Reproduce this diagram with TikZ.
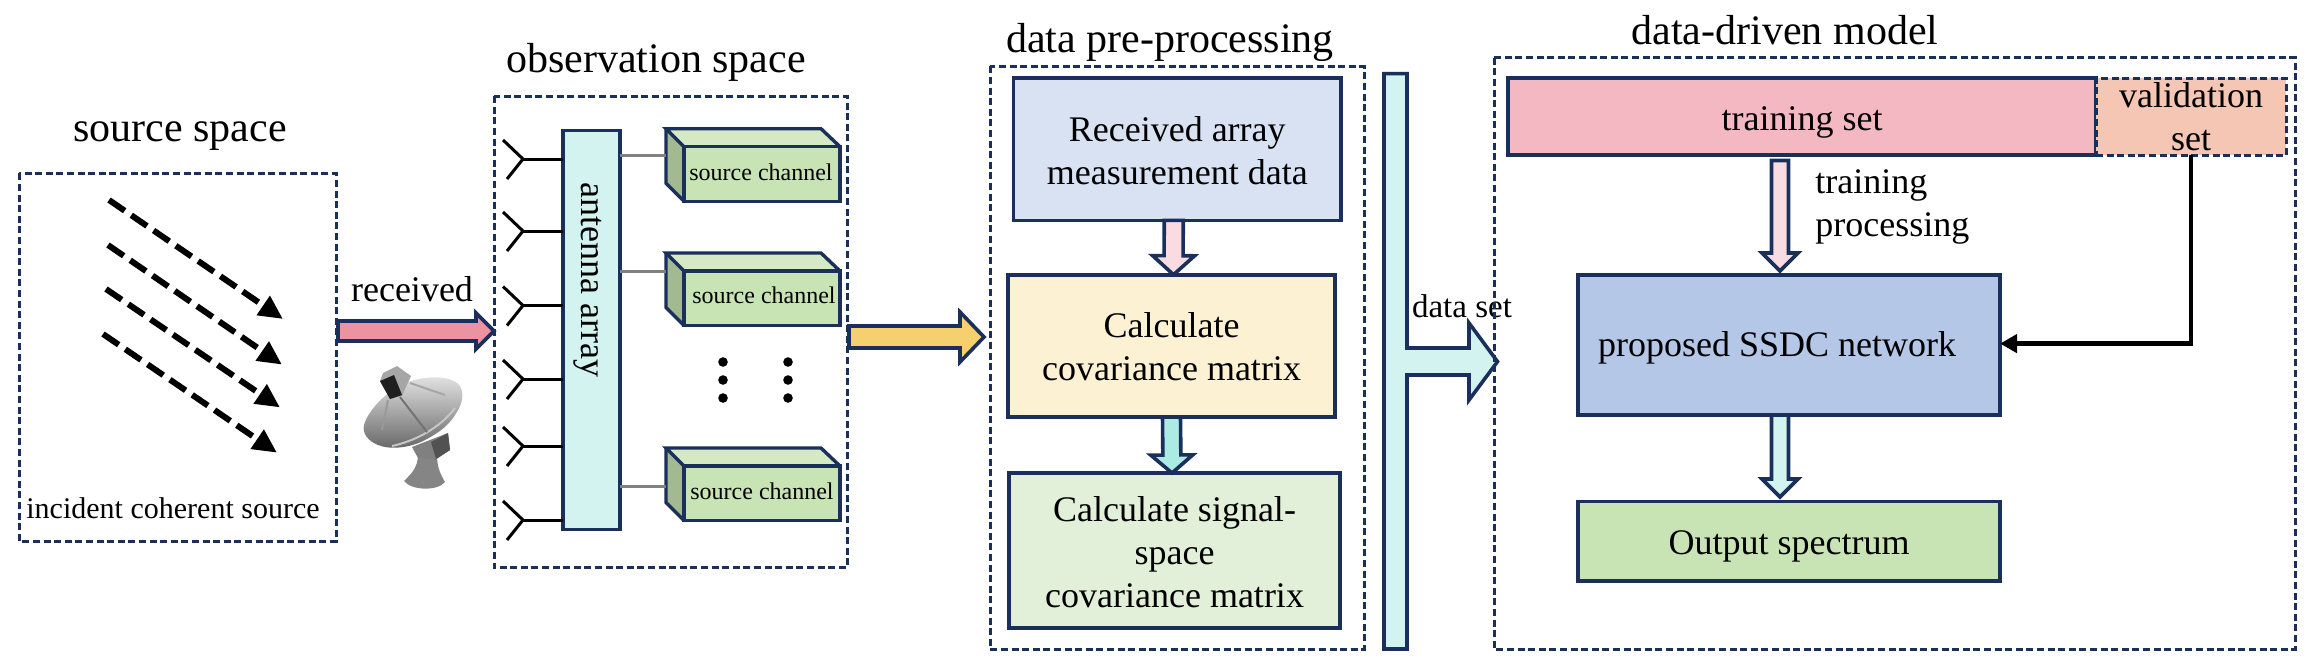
\documentclass[tikz,border=0pt]{standalone}
\usepackage{fontspec}
\setmainfont{Liberation Serif}
\usetikzlibrary{calc,arrows.meta,shadings}
\definecolor{navy}{HTML}{1B2F5B}
\definecolor{cyanfill}{HTML}{D2F3F0}
\definecolor{channelfront}{HTML}{C9E4B4}
\definecolor{channeltop}{HTML}{D5E9C5}
\definecolor{channelside}{HTML}{A3B98F}
\definecolor{boxblue}{HTML}{D9E2F3}
\definecolor{boxcream}{HTML}{FDF1D3}
\definecolor{boxgreen}{HTML}{E2EFD9}
\definecolor{trainpink}{HTML}{F4B8C3}
\definecolor{valpeach}{HTML}{F5C6B4}
\definecolor{ssdcblue}{HTML}{B4C7E7}
\definecolor{arrowrose}{HTML}{EC93A2}
\definecolor{arrowgold}{HTML}{F6D06F}
\definecolor{arrowteal}{HTML}{ACEAE4}
\definecolor{arrowpale}{HTML}{F8DCE2}
\tikzset{
  x=0.5pt,y=-0.5pt,
  region/.style={draw=navy,line width=1.5pt,dash pattern=on 3.5pt off 1.8pt},
  flowbox/.style={draw=navy,line width=1.9pt,anchor=north west,inner sep=0pt,outer sep=0pt,font=\fontsize{18}{21.5}\selectfont},
  title/.style={anchor=base,font=\fontsize{21}{25}\selectfont,inner sep=0pt},
  lab/.style={anchor=base,font=\fontsize{18}{21.5}\selectfont,inner sep=0pt},
  chanlab/.style={anchor=base,font=\fontsize{12}{14}\selectfont,inner sep=0pt},
  blockarrow/.style={draw=navy,line width=1.8pt,miter limit=4},
  raydash/.style={line width=3pt,dash pattern=on 9.5pt off 4pt,-{Triangle[length=12pt,width=11pt]}},
  stem/.style={black,line width=1.5pt},
  greyline/.style={draw=black!50,line width=1.5pt},
  chanedge/.style={draw=navy,line width=1.7pt,line join=miter}
}
% #1 fill, #2 from, #3 to, #4 half shaft, #5 half head, #6 head length
\newcommand{\blockarr}[6]{%
  \coordinate (ba) at #2; \coordinate (bb) at #3;
  \coordinate (bh) at ($(bb)!#6!(ba)$);
  \draw[blockarrow,fill=#1]
    ($(ba)!#4!90:(bb)$) -- ($(bh)!#4!-90:(ba)$) -- ($(bh)!#5!-90:(ba)$) -- (bb)
    -- ($(bh)!#5!90:(ba)$) -- ($(bh)!#4!90:(ba)$) -- ($(ba)!#4!-90:(bb)$) -- cycle;
}
% box text: #1 = first baseline below the box centre, #2 = the lines
\newcommand{\boxtext}[2]{\raisebox{-#1}[0pt][0pt]{\begin{tabular}[t]{@{}c@{}}#2\end{tabular}}}
% #1 name, #2 left x of front face, #3 top y of front face, #4 label x, #5 baseline
\newcommand{\channel}[5]{%
  \fill[channeltop] (#2-18,#3-18) -- (#2+137,#3-18) -- (#2+156,#3) -- (#2,#3) -- cycle;
  \fill[channelside] (#2-18,#3-18) -- (#2,#3) -- (#2,#3+54.5) -- (#2-18,#3+36.5) -- cycle;
  \draw[chanedge] (#2,#3) -- (#2-18,#3-18) -- (#2+137,#3-18) -- (#2+156,#3);
  \draw[chanedge] (#2-18,#3-18) -- (#2-18,#3+36.5) -- (#2,#3+54.5);
  \node[draw=navy,line width=1.7pt,fill=channelfront,anchor=north west,inner sep=0pt,outer sep=0pt,minimum width=78pt,minimum height=27.25pt] (#1) at (#2,#3) {};
  \node[chanlab] (#1t) at (#4,#5) {source channel};
}
\newcommand{\antenna}[2]{%
  \coordinate (#1) at (523,#2);
  \draw[stem] (503,#2-19) -- (#1) -- (507,#2+20);
  \draw[stem] (#1) -- (#1 -| arr.west);
}
\begin{document}
\begin{tikzpicture}
\useasboundingbox (0,0) rectangle (2316,671);
% ---------- source space
\node[title] (t1) at (180,141.5) {source space};
\draw[region] (19,173.3) rectangle (336,541);
\coordinate (r1a) at (109,200); \coordinate (r1b) at (283,319);
\coordinate (r2a) at (108,245); \coordinate (r2b) at (282,364.6);
\coordinate (r3a) at (106,289); \coordinate (r3b) at (280,407.4);
\coordinate (r4a) at (103,334); \coordinate (r4b) at (277,452.7);
\foreach \k in {1,2,3,4}{\draw[raydash] (r\k a) -- (r\k b);}
\node[anchor=base,font=\fontsize{15}{18}\selectfont,inner sep=0pt] (inc) at (173,518.6) {incident coherent source};
% ---------- received
\node[lab] (rec) at (412,301) {received};
\coordinate (srcE) at (338,331); \coordinate (obsW) at (494,331);
\blockarr{arrowrose}{(srcE)}{(obsW)}{5pt}{9pt}{9pt}
% ---------- dish
\begin{scope}
  % pedestal
  \fill[black!48] (418,455) -- (437,455) .. controls (437,468) and (441,475) .. (445,482) .. controls (438,491) and (412,491) .. (404,481) .. controls (410,475) and (418,468) .. (418,455) -- cycle;
  % mount
  \fill[black!50] (412,447) -- (448,433) -- (450,450) -- (435,460) -- (418,458) -- cycle;
  \fill[black!68] (431,442) -- (448,433) -- (450,450) -- (436,459) -- cycle;
  % dish
  \shade[left color=black!10,middle color=black!5,right color=black!60,shading angle=0]
    (364,425) .. controls (368,410) and (388,390) .. (405,383) .. controls (420,377) and (445,374) .. (457,383) .. controls (464,388) and (464,400) .. (458,410) .. controls (450,425) and (440,432) .. (425,440) .. controls (410,448) and (390,450) .. (378,445) .. controls (368,441) and (362,433) .. (364,425) -- cycle;
  \draw[black!22,line width=1pt] (392,446) .. controls (415,441) and (440,428) .. (455,408);
  % struts and feed
  \draw[black!40,line width=1pt] (388,400) -- (382,430);
  \draw[black!55,line width=1pt] (400,397) -- (427,432);
  \draw[black!35,line width=1pt] (410,383) -- (445,395);
  \fill[black!35] (383,373) -- (397,366) -- (411,376) -- (402,396) -- (390,399) -- (380,381) -- cycle;
  \fill[black!88] (380,381) -- (394,375) -- (402,395) -- (390,399) -- cycle;
\end{scope}
% ---------- observation space
\node[title] (t2) at (656,72) {observation space};
\draw[region] (494,96.2) rectangle (847,567.7);
\node[draw=navy,line width=1.7pt,fill=cyanfill,anchor=north west,inner sep=0pt,outer sep=0pt,minimum width=28.5pt,minimum height=199.4pt] (arr) at (563,130.6) {};
\node[lab,rotate=-90,anchor=center] (arrt) at (588,280) {antenna array};
\antenna{a1}{159}\antenna{a2}{231}\antenna{a3}{305.5}\antenna{a4}{379}\antenna{a5}{446}\antenna{a6}{520}
\channel{c1}{684}{146.7}{761}{180}
\channel{c2}{684}{271}{764}{303.6}
\channel{c3}{684}{466}{762}{499}
\coordinate (g1) at (666,155); \coordinate (g2) at (666,271.5); \coordinate (g3) at (666,486);
\draw[greyline] (g1 -| arr.east) -- (g1);
\draw[greyline] (g2 -| arr.east) -- (g2);
\draw[greyline] (g3 -| arr.east) -- (g3);
\foreach \cx in {723,788}\foreach \cy in {362,380,398}{\fill (\cx,\cy) circle (2.4pt);}
% ---------- yellow arrow
\coordinate (obsE) at (849,337); \coordinate (preW) at (984,337);
\blockarr{arrowgold}{(obsE)}{(preW)}{5.5pt}{12.5pt}{12pt}
% ---------- pre-processing
\node[title] (t3) at (1170,52) {data pre-processing};
\draw[region] (990,66.3) rectangle (1364,649);
\node[flowbox,fill=boxblue,minimum width=163.75pt,minimum height=71.2pt] (b1) at (1013.5,78) {\boxtext{-3.9pt}{Received array\\measurement data}};
\node[flowbox,fill=boxcream,minimum width=163.5pt,minimum height=71.15pt] (b2) at (1008,274.7) {\boxtext{-4.25pt}{Calculate\\covariance matrix}};
\node[flowbox,fill=boxgreen,minimum width=165.5pt,minimum height=77.5pt] (b3) at (1009,473) {\boxtext{-14.55pt}{Calculate signal-\\space\\covariance matrix}};
\blockarr{arrowpale}{([xshift=-1.75pt]b1.south)}{([xshift=1pt]b2.north)}{4.75pt}{10.5pt}{9.5pt}
\blockarr{arrowteal}{([xshift=0pt]b2.south)}{([xshift=-1.25pt]b3.north)}{4.5pt}{10.5pt}{9pt}
% ---------- data set bus
\coordinate (busTL) at (1384,73.6); \coordinate (busBR) at (1407,649); \coordinate (busTip) at (1497.5,361.6);
\draw[blockarrow,fill=cyanfill] (busTL) -- (busTL -| busBR) -- (1407,348) -- (1469,348) -- (1469,323) -- (busTip) -- (1469,400) -- (1469,375) -- (1407,375) -- (busBR) -- (busBR -| busTL) -- cycle;
\node[anchor=base,font=\fontsize{16.5}{20}\selectfont,inner sep=0pt] (ds) at (1462,317.5) {data set};
% ---------- model
\node[title] (t4) at (1785,44) {data-driven model};
\draw[region] (1494,57.8) rectangle (2295,649);
\node[flowbox,fill=trainpink,minimum width=294pt,minimum height=38.65pt] (train) at (1508,78) {\boxtext{6.9pt}{training set}};
\node[flowbox,line width=1.5pt,dash pattern=on 3.5pt off 1.8pt,fill=valpeach,minimum width=95pt,minimum height=38.65pt] (val) at (2096,78) {\boxtext{-4.8pt}{validation\\set}};
\node[flowbox,fill=ssdcblue,minimum width=211pt,minimum height=70.15pt] (ssdc) at (1578,274.7) {\boxtext{6.05pt}{proposed SSDC network}\hspace*{12pt}};
\node[flowbox,fill=channelfront,minimum width=211pt,minimum height=39.6pt] (out) at (1578,501.5) {\boxtext{6.5pt}{Output spectrum}};
\coordinate (trA) at (1780,160.5); \coordinate (trB) at (1780,271);
\blockarr{arrowpale}{(trA)}{(trB)}{4.25pt}{9pt}{9pt}
\node[anchor=base west,inner sep=0pt,font=\fontsize{18}{21.5}\selectfont] (tp) at (1815,193.4) {\begin{tabular}[t]{@{}l@{}}training\\processing\end{tabular}};
\coordinate (ouA) at (1780,415); \coordinate (ouB) at (1780,497);
\blockarr{cyanfill}{(ouA)}{(ouB)}{4.25pt}{9pt}{9pt}
\coordinate (fb) at (val.south |- 0,343.6);
\draw[black,line width=2.2pt,-{Triangle[length=8.5pt,width=9pt]}] (val.south) -- (fb) -- (fb -| ssdc.east);
\end{tikzpicture}
\end{document}
